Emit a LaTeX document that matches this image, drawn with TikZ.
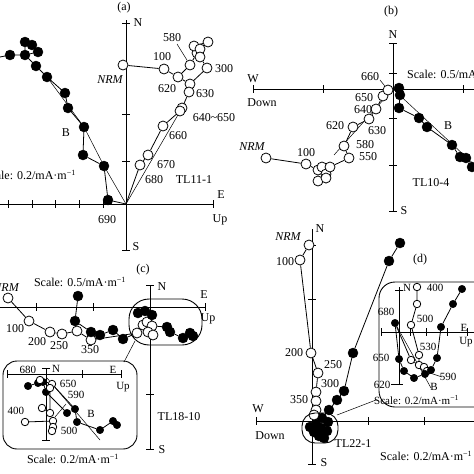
\documentclass[tikz,border=0pt]{standalone}
\usepackage{fontspec}
\setmainfont{Liberation Serif}
\pgfdeclarelayer{bg}
\pgfsetlayers{bg,main}
\newcommand\mym{mA·m\textsuperscript{−1}}
\tikzset{
 oc/.style={circle,draw,fill=white,inner sep=0pt,minimum size=10pt,line width=0.8pt},
 fc/.style={circle,draw,fill=black,inner sep=0pt,minimum size=10pt},
 soc/.style={oc,minimum size=7.5pt},
 sfc/.style={fc,minimum size=7.5pt},
 ax/.style={line width=0.8pt},
 dl/.style={line width=0.8pt},
 fl/.style={line width=0.5pt},
 lab/.style={font=\fontsize{12}{14}\selectfont,inner sep=0pt},
 slab/.style={font=\fontsize{11}{13}\selectfont,inner sep=0pt},
}
\begin{document}
\begin{tikzpicture}[x=1pt,y=-1pt]
\useasboundingbox (0,0) rectangle (474,474);
\begin{pgfonlayer}{bg}
\fill[white] (0,0) rectangle (474,474);
\end{pgfonlayer}
\clip (0,0) rectangle (474,474);

% ================= panel (a) =================
\draw[ax] (126,20) -- (126,250);
\foreach \y in {23,114,161,250} \draw[ax] (122,\y) -- (130,\y);
\draw[ax] (0,204) -- (213,204);
\foreach \x in {8,32,55,79,103,213} \draw[ax] (\x,200) -- (\x,208);
\coordinate (aO) at (126,204);
\coordinate (aL) at (-5,58);
\node[lab] (atitle) at (124,8) {(a)};
\node[lab] (aN) at (138,23) {N};
\node[lab] (aS) at (136,247) {S};
\node[lab] (aE) at (221,195) {E};
\node[lab] (aUp) at (220,220) {Up};
\node[lab] (a690) at (107,220) {690};
% open
\node[oc] (ao0) at (123,65) {};
\node[oc] (ao1) at (164,69) {};
\node[oc] (ao2) at (178,77) {};
\node[oc] (ao3) at (190,65) {};
\node[oc] (ao4) at (197,53) {};
\node[oc] (ao5) at (194,46) {};
\node[oc] (ao6) at (200,49) {};
\node[oc] (ao7) at (208,42) {};
\node[oc] (ao8) at (200,57) {};
\node[oc] (ao9) at (207,68) {};
\node[oc] (ao10) at (190,84) {};
\node[oc] (ao11) at (189,92) {};
\node[oc] (ao12) at (182,108) {};
\node[oc] (ao13) at (180,111) {};
\node[oc] (ao14) at (163,126) {};
\node[oc] (ao15) at (148,155) {};
\node[oc] (ao16) at (140,165) {};
% filled
\node[fc] (af0) at (10,55) {};
\node[fc] (af1) at (25,55) {};
\node[fc] (af2) at (25,42) {};
\node[fc] (af3) at (32,45) {};
\node[fc] (af4) at (38,52) {};
\node[fc] (af5) at (36,66) {};
\node[fc] (af6) at (47,77) {};
\node[fc] (af7) at (65,93) {};
\node[fc] (af8) at (68,108) {};
\node[fc] (af9) at (84,127) {};
\node[fc] (af10) at (83,155) {};
\node[fc] (af11) at (104,166) {};
\node[fc] (af12) at (108,200) {};
\begin{pgfonlayer}{bg}
\draw[dl] (ao0) -- (ao1) -- (ao2) -- (ao3) -- (ao4) -- (ao5) -- (ao7) -- (ao6) -- (ao8) -- (ao9) -- (ao10) -- (ao11) -- (ao12) -- (ao13) -- (ao14) -- (ao15) -- (ao16) -- (aO);
\draw[dl] (ao2) -- (ao10);
\draw[fl] (aO) -- (ao12.center);
\draw[dl] (aL) -- (af0) -- (af1) -- (af2) -- (af3) -- (af4) -- (af1) -- (af5) -- (af6) -- (af7) -- (af8) -- (af9) -- (af10) -- (af11) -- (af12) -- (aO);
\draw[fl] (af6.center) -- (af9.center) -- (af11.center) -- (aO);
\end{pgfonlayer}
\node[lab,font=\itshape\fontsize{12}{14}\selectfont] (aNRM) at (110,80) {NRM};
\node[lab] (a100) at (162,57) {100};
\node[lab] (a580) at (172,38) {580};
\coordinate (a580s) at (177,44);
\draw[fl] (a580s) -- (ao3);
\node[lab] (a620) at (167,89) {620};
\node[lab] (a300) at (224,69) {300};
\node[lab] (a630) at (205,94) {630};
\node[lab] (a640) at (214,118) {640\textasciitilde650};
\node[lab] (a660) at (178,136) {660};
\node[lab] (a670) at (166,165) {670};
\node[lab] (a680) at (154,180) {680};
\node[lab] (aTL) at (194,180) {TL11-1};
\node[lab] (aB) at (66,133) {B};
\node[lab,anchor=east] (ascale) at (76,175) {Scale: 0.2/\mym};

% ================= panel (b) =================
\draw[ax] (393,43) -- (393,211);
\foreach \y in {43,73,118,165,211} \draw[ax] (389,\y) -- (397,\y);
\draw[ax] (253,89) -- (480,89);
\foreach \x in {253,323,463} \draw[ax] (\x,85) -- (\x,93);
\coordinate (bO) at (393,89);
\coordinate (bR) at (482,173);
\coordinate (bfit) at (480,170);
\coordinate (bfit2) at (334,155);
\node[lab] (btitle) at (391,12) {(b)};
\node[lab] (bN) at (393,35) {N};
\node[lab] (bS) at (404,211) {S};
\node[lab] (bW) at (253,79) {W};
\node[lab] (bDown) at (262,103) {Down};
\node[lab,anchor=west] (bscale) at (407,74) {Scale: 0.5/\mym};
\node[oc] (bo0) at (266,158) {};
\node[oc] (bo1) at (306,164) {};
\node[oc] (bo2) at (318,170) {};
\node[oc] (bo3) at (322,167) {};
\node[oc] (bo4) at (326,174) {};
\node[oc] (bo5) at (318,181) {};
\node[oc] (bo6) at (326,178) {};
\node[oc] (bo7) at (330,167) {};
\node[oc] (bo8) at (349,158) {};
\node[oc] (bo9) at (344,146) {};
\node[oc] (bo10) at (353,127) {};
\node[oc] (bo11) at (369,119) {};
\node[oc] (bo12) at (376,109) {};
\node[oc] (bo13) at (383,96) {};
\node[oc] (bo14) at (388,90) {};
\node[fc] (bf0) at (399,88) {};
\node[fc] (bf1) at (400,95) {};
\node[fc] (bf2) at (399,108) {};
\node[fc] (bf3) at (419,118) {};
\node[fc] (bf4) at (427,127) {};
\node[fc] (bf5) at (452,145) {};
\node[fc] (bf6) at (460,157) {};
\node[fc] (bf7) at (466,158) {};
\node[fc] (bf8) at (472,167) {};
\begin{pgfonlayer}{bg}
\draw[dl] (bo0) -- (bo1) -- (bo2) -- (bo5) -- (bo6) -- (bo4) -- (bo3) -- (bo7) -- (bo8) -- (bo9) -- (bo10) -- (bo11) -- (bo12) -- (bo13) -- (bo14) -- (bO);
\draw[fl] (bO) -- (bfit2);
\draw[dl] (bO) -- (bf0) -- (bf1) -- (bf2) -- (bf3) -- (bf4) -- (bf5) -- (bf6) -- (bf7) -- (bf8) -- (bR);
\draw[fl] (bO) -- (bfit);
\end{pgfonlayer}
\node[lab,font=\itshape\fontsize{12}{14}\selectfont] (bNRM) at (252,147) {NRM};
\node[lab] (b100) at (306,153) {100};
\node[lab] (b550) at (368,157) {550};
\node[lab] (b580) at (365,145) {580};
\node[lab] (b620) at (335,126) {620};
\node[lab] (b630) at (377,131) {630};
\node[lab] (b640) at (363,110) {640};
\node[lab] (b650) at (364,98) {650};
\node[lab] (b660) at (370,77) {660};
\coordinate (b660s) at (380,80);
\draw[fl] (b660s) -- (bo14);
\node[lab] (bB) at (448,126) {B};
\node[lab] (bTL) at (431,183) {TL10-4};

% ================= panel (c) =================
\draw[ax] (150,285) -- (150,449);
\foreach \y in {285,394,449} \draw[ax] (146,\y) -- (154,\y);
\draw[ax] (0,307) -- (205,307);
\foreach \x in {36,93,205} \draw[ax] (\x,303) -- (\x,311);
\coordinate (cO) at (150,307);
\node[lab] (ctitle) at (143,270) {(c)};
\node[lab] (cN) at (162,287) {N};
\node[lab] (cS) at (162,450) {S};
\node[lab] (cE) at (204,295) {E};
\node[lab] (cUp) at (208,319) {Up};
\node[lab] (cscale) at (80,282) {Scale: 0.5/\mym};
\node[oc] (co0) at (8,298) {};
\node[oc] (co1) at (29,321) {};
\node[oc] (co2) at (50,332) {};
\node[oc] (co3) at (62,334) {};
\node[oc] (co4) at (77,331) {};
\node[oc] (co5) at (91,340) {};
\node[oc] (co6) at (137,333) {};
\node[oc] (co7) at (143,325) {};
\node[oc] (co8) at (147,322) {};
\node[oc] (co9) at (152,326) {};
\node[oc] (co10) at (148,332) {};
\node[oc] (co11) at (153,335) {};
\node[fc] (cf0) at (78,296) {};
\node[fc] (cf1) at (75,321) {};
\node[fc] (cf2) at (91,332) {};
\node[fc] (cf3) at (100,335) {};
\node[fc] (cf4) at (113,330) {};
\node[fc] (cf5) at (123,339) {};
\node[fc] (cf6) at (138,313) {};
\node[fc] (cf7) at (145,311) {};
\node[fc] (cf8) at (152,315) {};
\node[fc] (cf9) at (167,327) {};
\node[fc] (cf10) at (170,332) {};
\node[fc] (cf11) at (183,338) {};
\node[fc] (cf12) at (190,333) {};
\node[fc] (cf13) at (193,336) {};
\begin{pgfonlayer}{bg}
\draw[dl] (co0) -- (co1) -- (co2) -- (co3) -- (co4) -- (co5) -- (co6) -- (co7) -- (co8) -- (co9) -- (co10) -- (co11);
\draw[dl] (cf0) -- (cf1) -- (cf2) -- (cf3) -- (cf4) -- (cf5) -- (co6);
\draw[dl] (cf6) -- (cf7) -- (cf8) -- (co9) -- (cf9) -- (cf10) -- (cf11) -- (cf12) -- (cf13);
\draw[dl] (cf1) -- (co4);
\end{pgfonlayer}
\node[lab,font=\itshape\fontsize{12}{14}\selectfont,anchor=east] (cNRM) at (19,288) {NRM};
\node[lab] (c100) at (15,329) {100};
\node[lab] (c200) at (37,342) {200};
\node[lab] (c250) at (59,346) {250};
\node[lab] (c350) at (90,350) {350};
\node[lab] (cTL) at (179,417) {TL18-10};
\node[draw,line width=0.9pt,rounded corners=20pt,minimum width=73pt,minimum height=46pt] (cbox) at (165.5,322) {};
\coordinate (clead1) at (135,341);
\coordinate (clead2) at (124,362);
\draw[fl] (clead1) -- (clead2);
% inset (c)
\node[draw,line width=0.9pt,rounded corners=14pt,minimum width=134pt,minimum height=88pt] (cibox) at (70,405) {};
\draw[ax] (7,374) -- (121,374);
\foreach \x in {7,82,121} \draw[ax] (\x,370) -- (\x,378);
\draw[ax] (46,368) -- (46,440);
\foreach \y in {368,440} \draw[ax] (42,\y) -- (50,\y);
\node[slab] (ci680) at (28,370) {680};
\node[slab] (ciN) at (56,369) {N};
\node[slab] (ciE) at (113,370) {E};
\node[slab] (ciUp) at (123,387) {Up};
\node[sfc] (cif0) at (28,386) {};
\node[sfc] (cif1) at (38,383) {};
\node[sfc] (cif2) at (43,382) {};
\node[sfc] (cif3) at (46,392) {};
\node[sfc] (cif4) at (67,413) {};
\node[sfc] (cif5) at (75,409) {};
\node[sfc] (cif6) at (77,422) {};
\node[sfc] (cif7) at (100,430) {};
\node[sfc] (cif8) at (113,421) {};
\node[sfc] (cif9) at (117,425) {};
\node[soc] (cio0) at (40,380) {};
\node[soc] (cio1) at (52,384) {};
\node[soc] (cio2) at (50,388) {};
\node[soc] (cio3) at (42,408) {};
\node[soc] (cio4) at (50,413) {};
\node[soc] (cio5) at (25,422) {};
\node[soc] (cio6) at (53,421) {};
\node[soc] (cio7) at (53,427) {};
\node[soc] (cio8) at (52,431) {};
\coordinate (cifit1) at (47,378);
\coordinate (cifit2) at (100,440);
\coordinate (cil1) at (55,417);
\coordinate (cil2) at (66,404);
\begin{pgfonlayer}{bg}
\draw[dl] (cif0) -- (cif1) -- (cif2) -- (cif3) -- (cif4) -- (cif5) -- (cif6) -- (cif7) -- (cif8) -- (cif9);
\draw[dl] (cio1) -- (cif5);
\draw[dl] (cio0) -- (cio1) -- (cio2) -- (cio4) -- (cio6) -- (cio7) -- (cio8);
\draw[dl] (cio3) -- (cio4);
\draw[dl] (cio5) -- (cio6);
\draw[fl] (cifit1) -- (cifit2);
\draw[fl] (cil1) -- (cil2);
\end{pgfonlayer}
\node[slab] (ci650) at (68,384) {650};
\node[slab] (ci590) at (76,395) {590};
\node[slab] (ciB) at (91,414) {B};
\node[slab] (ci400) at (16,411) {400};
\node[slab] (ci500) at (69,431) {500};
\node[lab] (ciscale) at (73,459) {Scale: 0.2/\mym};

% ================= panel (d) =================
\draw[ax] (312,229) -- (312,464);
\foreach \y in {245,299,464} \draw[ax] (308,\y) -- (316,\y);
\draw[ax] (256,421) -- (480,421);
\foreach \x in {256,368,424} \draw[ax] (\x,417) -- (\x,425);
\coordinate (dO) at (312,421);
\node[lab] (dtitle) at (420,260) {(d)};
\node[lab] (dN) at (320,229) {N};
\node[lab] (dS) at (324,463) {S};
\node[lab] (dW) at (258,409) {W};
\node[lab] (dDown) at (270,436) {Down};
\node[lab] (dTL) at (353,444) {TL22-1};
\node[lab,anchor=west] (dscale) at (380,456) {Scale: 0.2/\mym};
\node[oc] (do0) at (309,245) {};
\node[oc] (do1) at (300,260) {};
\node[oc] (do2) at (311,353) {};
\node[oc] (do3) at (318,373) {};
\node[oc] (do4) at (316,392) {};
\node[oc] (do5) at (316,401) {};
\node[oc] (do6) at (316,410) {};
\node[fc] (df0) at (400,243) {};
\node[fc] (df1) at (389,261) {};
\node[fc] (df2) at (353,353) {};
\node[fc] (df3) at (344,391) {};
\node[fc] (df4) at (337,400) {};
\node[fc] (df5) at (329,410) {};
\node[fc] (dc1) at (322,418) {};
\node[fc] (dc2) at (328,422) {};
\node[fc] (dc3) at (316,424) {};
\node[fc] (dc4) at (321,428) {};
\node[fc] (dc5) at (327,431) {};
\node[fc] (dc6) at (314,432) {};
\node[fc] (dc7) at (319,436) {};
\node[fc] (dc8) at (324,438) {};
\node[fc] (dc9) at (310,427) {};
\node[oc] (do7) at (314,415) {};
\begin{pgfonlayer}{bg}
\draw[dl] (do0) -- (do1) -- (do2) -- (do3) -- (do4) -- (do5) -- (do6) -- (do7);
\draw[dl] (df0) -- (df1) -- (df2) -- (df3) -- (df4) -- (df5) -- (dc1);
\end{pgfonlayer}
\node[draw,line width=0.9pt,rounded corners=13pt,minimum width=36pt,minimum height=30pt] (dblob) at (320,428) {};
\coordinate (dlead1) at (337,415);
\coordinate (dlead2) at (376,400);
\draw[fl] (dlead1) -- (dlead2);
\node[lab,font=\itshape\fontsize{12}{14}\selectfont] (dNRM) at (288,237) {NRM};
\node[lab] (d100) at (285,262) {100};
\node[lab] (d200) at (294,353) {200};
\node[lab] (d250) at (333,365) {250};
\node[lab] (d300) at (330,384) {300};
\node[lab] (d350) at (299,400) {350};
% inset (d)
\node[draw,line width=0.9pt,rounded corners=16pt,minimum width=116pt,minimum height=125pt] (dibox) at (437,344.5) {};
\draw[ax] (399,287) -- (399,384);
\foreach \y in {290,384} \draw[ax] (395,\y) -- (403,\y);
\draw[ax] (391,384) -- (399,384);
\draw[ax] (381,332) -- (480,332);
\foreach \x in {381,410,426,447,467} \draw[ax] (\x,328) -- (\x,336);
\node[slab] (diN) at (407,288) {N};
\node[slab] (di400) at (435,288) {400};
\node[slab] (di680) at (386,312) {680};
\node[slab] (di500) at (425,319) {500};
\node[slab] (diE) at (464,328) {E};
\node[slab] (diUp) at (466,342) {Up};
\node[slab] (di530) at (428,347) {530};
\node[slab] (di650) at (381,358) {650};
\node[slab] (di590) at (448,377) {590};
\node[slab] (diB) at (434,387) {B};
\node[slab] (di620) at (382,385) {620};
\node[slab,anchor=west] (discale) at (374,400) {Scale: 0.2/\mym};
\node[soc] (dio0) at (417,287) {};
\node[soc] (dio1) at (417,304) {};
\node[soc] (dio2) at (411,325) {};
\node[soc] (dio3) at (419,355) {};
\node[soc] (dio4) at (411,360) {};
\node[soc] (dio5) at (419,365) {};
\node[soc] (dio6) at (424,367) {};
\node[soc] (dio7) at (427,371) {};
\node[sfc] (dif0) at (462,289) {};
\node[sfc] (dif1) at (453,304) {};
\node[sfc] (dif2) at (441,327) {};
\node[sfc] (dif3) at (437,358) {};
\node[sfc] (dif4) at (431,370) {};
\node[sfc] (dif5) at (425,374) {};
\node[sfc] (dif6) at (414,378) {};
\node[sfc] (dif7) at (404,371) {};
\node[sfc] (dif8) at (399,359) {};
\node[sfc] (dif9) at (395,323) {};
\coordinate (difit) at (431,388);
\coordinate (di590s) at (430,373);
\coordinate (di590e) at (442,377);
\begin{pgfonlayer}{bg}
\draw[dl] (dio0) -- (dio1) -- (dio2) -- (dio3) -- (dio5) -- (dio6) -- (dio7) -- (dio4) -- (dif9);
\draw[dl] (dif0) -- (dif1) -- (dif2) -- (dif3) -- (dif4) -- (dif5) -- (dif6) -- (dif7) -- (dif8) -- (dif9);
\draw[fl] (dif9.center) -- (difit);
\draw[fl] (di590s) -- (di590e);
\end{pgfonlayer}
\end{tikzpicture}
\end{document}
